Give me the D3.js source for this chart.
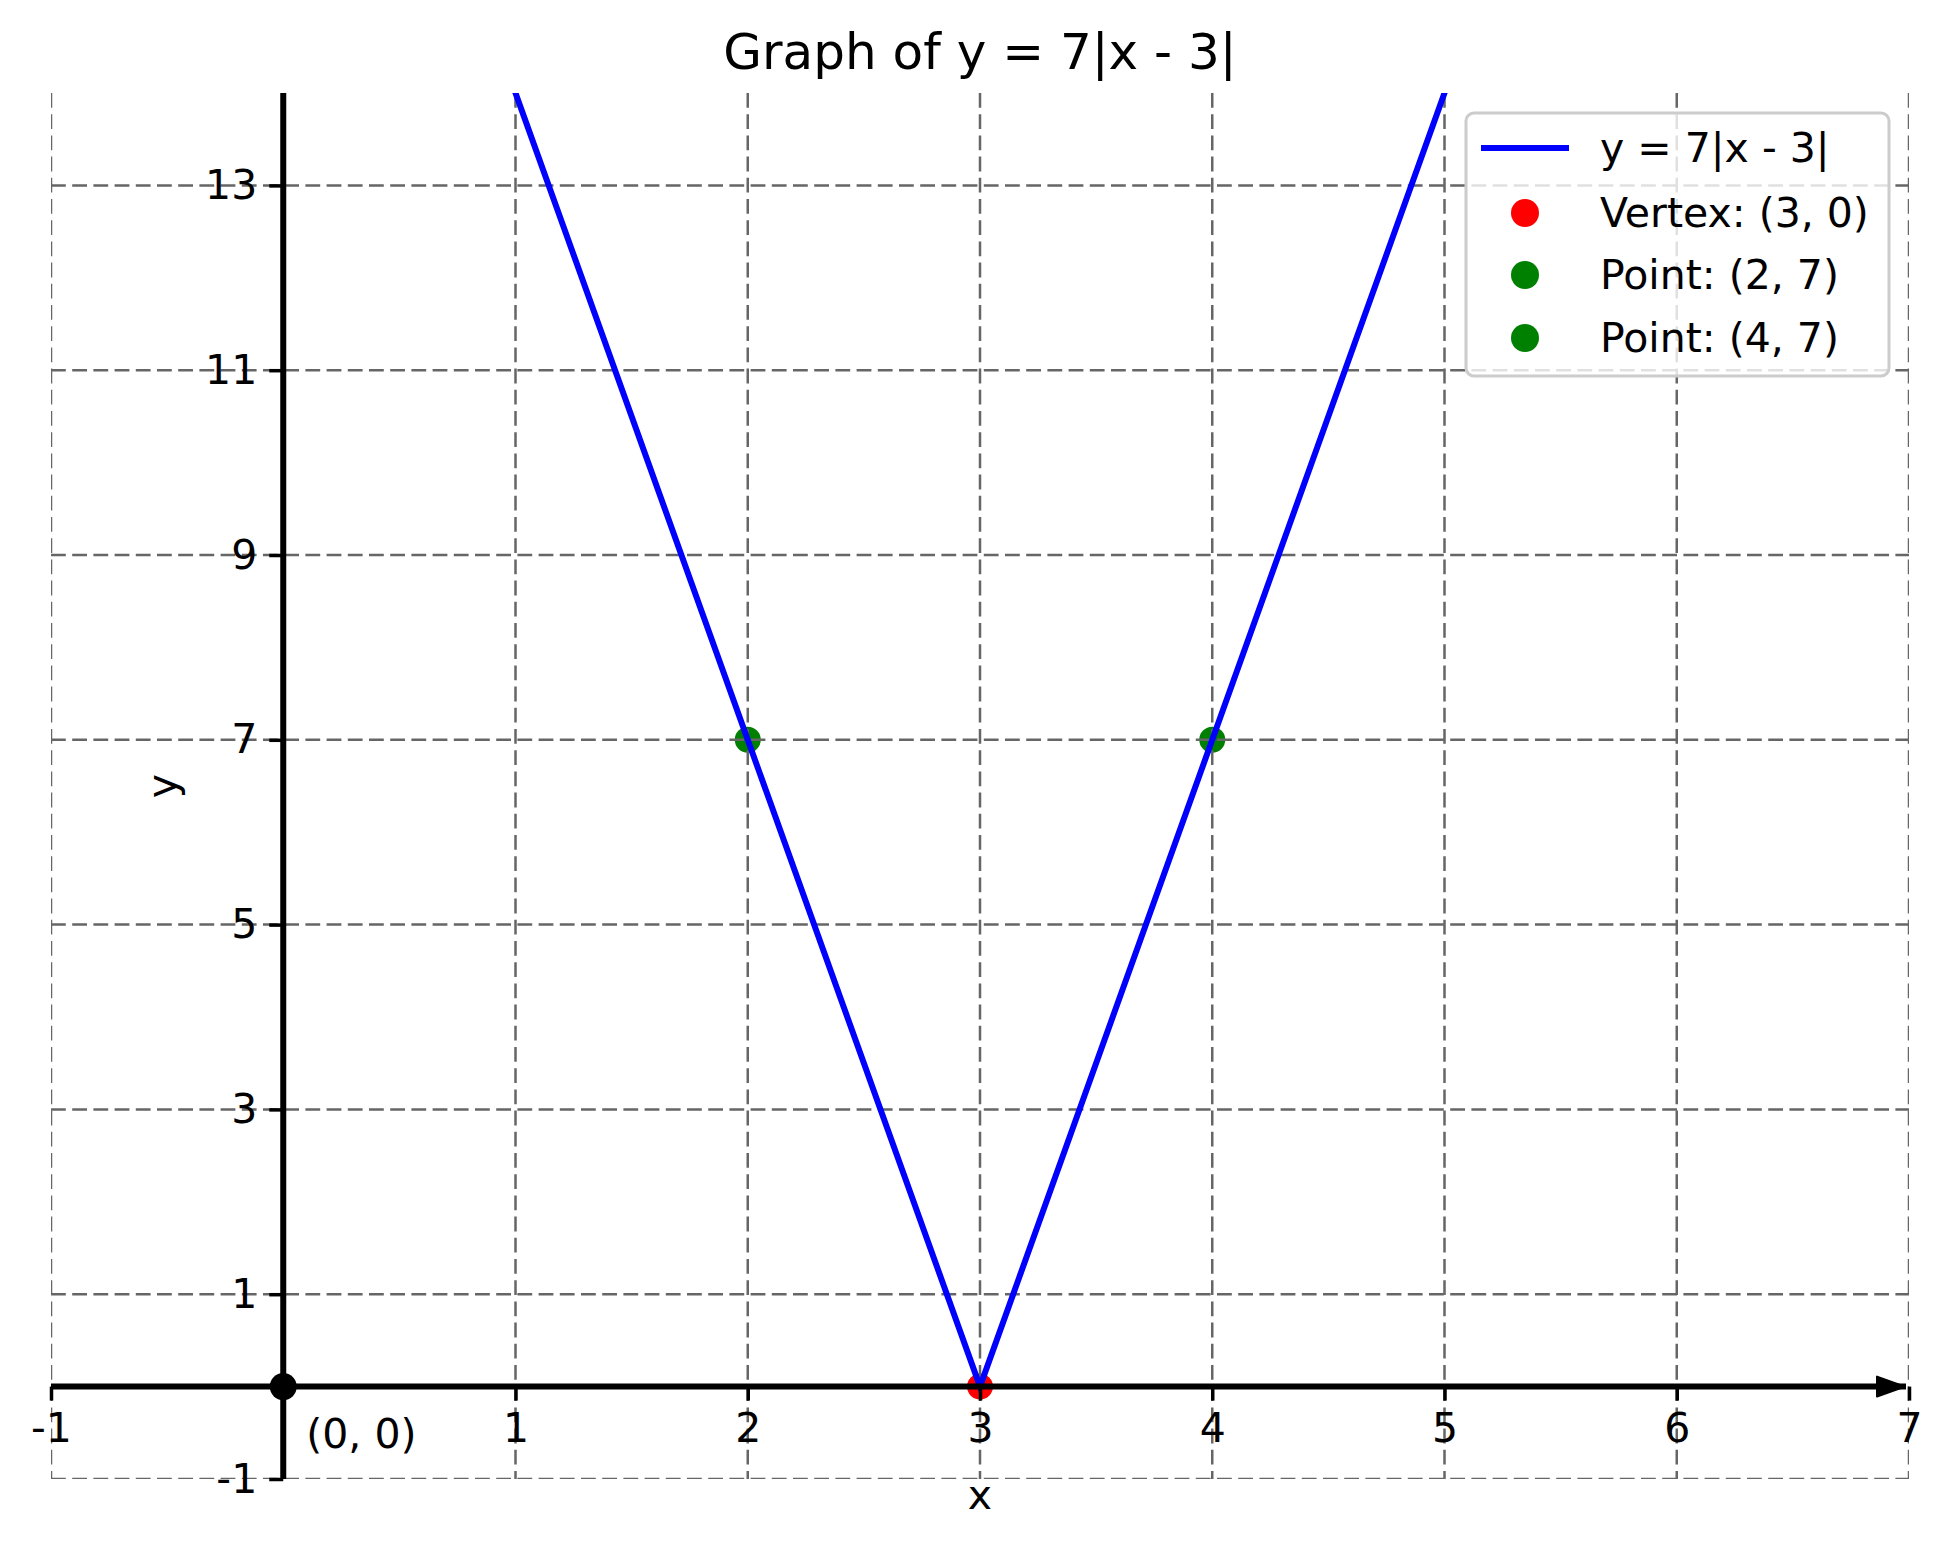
<!DOCTYPE html>
<html><head><meta charset="utf-8">
<script src="https://cdn.jsdelivr.net/npm/d3@7"></script>
<style>body{margin:0;background:#fff}svg{display:block;font-family:"DejaVu Sans",sans-serif}</style>
</head><body>
<script>
const titleText = "Graph of y = 7|x - 3|";
const lineX = [-1, 3, 7];
const lineY = [28, 0, 28];
const xTicks = [-1, 0, 1, 2, 3, 4, 5, 6, 7];
const xTickLabels = ["-1", "", "1", "2", "3", "4", "5", "6", "7"];
const yTicks = [13, 11, 9, 7, 5, 3, 1, -1];
const yTickLabels = ["13", "11", "9", "7", "5", "3", "1", "-1"];
const pointLabels = ["Vertex: (3, 0)", "Point: (2, 7)", "Point: (4, 7)"];
const pointX = [3, 2, 4];
const pointY = [0, 7, 7];
const pointColors = ["#ff0000", "#008000", "#008000"];
const lineLabel = "y = 7|x - 3|";
const originLabel = "(0, 0)";

const W = 1953, H = 1546;
const L = 51, R = 1909, T = 93, B = 1479;
const FS = 41;
const x = d3.scaleLinear().domain([-1, 7]).range([L, R]);
const y = d3.scaleLinear().domain([-1, 14]).range([B, T]);

const svg = d3.select("body").append("svg").attr("width", W).attr("height", H);
svg.append("defs").append("clipPath").attr("id", "clip")
  .append("rect").attr("x", L).attr("y", T).attr("width", R - L).attr("height", B - T);

// scatter points
const gp = svg.append("g").attr("clip-path", "url(#clip)");
gp.selectAll("circle").data(pointX.map((v, i) => ({x: v, y: pointY[i], c: pointColors[i]})))
  .enter().append("circle")
  .attr("cx", d => x(d.x)).attr("cy", d => y(d.y)).attr("r", 13).attr("fill", d => d.c);

// grid
const gg = svg.append("g").attr("clip-path", "url(#clip)")
  .attr("stroke", "#666").attr("stroke-width", 2.5).attr("stroke-dasharray", "14.8,6.4");
xTicks.forEach(t => gg.append("line").attr("x1", x(t)).attr("x2", x(t)).attr("y1", T).attr("y2", B));
yTicks.forEach(t => gg.append("line").attr("y1", y(t)).attr("y2", y(t)).attr("x1", L).attr("x2", R));

// line
svg.append("path").attr("clip-path", "url(#clip)")
  .datum(lineX.map((v, i) => [v, lineY[i]]))
  .attr("d", d3.line().x(d => x(d[0])).y(d => y(d[1])))
  .attr("fill", "none").attr("stroke", "#0000ff").attr("stroke-width", 6);

// axes through origin
const xAxis = d3.axisBottom(x).tickValues(xTicks).tickFormat((d, i) => xTickLabels[i]).tickSize(14).tickPadding(12);
const gx = svg.append("g").attr("transform", `translate(0,${y(0)})`).call(xAxis);
gx.select(".domain").remove();
gx.selectAll(".tick line").attr("stroke", "#000").attr("stroke-width", 3.5);
gx.selectAll(".tick text").attr("font-size", FS).attr("font-family", "DejaVu Sans").attr("fill", "#000");
gx.selectAll(".tick").filter(d => d === 0).select("line").remove();

const yAxis = d3.axisLeft(y).tickValues(yTicks).tickFormat((d, i) => yTickLabels[i]).tickSize(14).tickPadding(12);
const gy = svg.append("g").attr("transform", `translate(${x(0)},0)`).call(yAxis);
gy.select(".domain").remove();
gy.selectAll(".tick line").attr("stroke", "#000").attr("stroke-width", 3.5);
gy.selectAll(".tick text").attr("font-size", FS).attr("font-family", "DejaVu Sans").attr("fill", "#000");

// spines
svg.append("line").attr("x1", L).attr("x2", R - 3).attr("y1", y(0)).attr("y2", y(0))
  .attr("stroke", "#000").attr("stroke-width", 6);
svg.append("line").attr("x1", x(0)).attr("x2", x(0)).attr("y1", T).attr("y2", B)
  .attr("stroke", "#000").attr("stroke-width", 6);
// arrow head
const ax = x(7) - 4, ay = y(0);
svg.append("path").attr("d", `M${ax},${ay} L${ax - 28},${ay - 10} L${ax - 28},${ay + 10} Z`)
  .attr("fill", "#000").attr("stroke", "#000").attr("stroke-width", 2).attr("stroke-linejoin", "round");

// origin dot and label
svg.append("circle").attr("cx", x(0)).attr("cy", y(0)).attr("r", 13.5).attr("fill", "#000");
svg.append("text").attr("x", x(0) + 23).attr("y", y(0) + 47).attr("font-size", FS)
  .attr("text-anchor", "start").attr("dominant-baseline", "central").text(originLabel);

// title and axis labels
svg.append("text").attr("x", (L + R) / 2).attr("y", 52).attr("font-size", 50)
  .attr("text-anchor", "middle").attr("dominant-baseline", "central").text(titleText);
svg.append("text").attr("x", (L + R) / 2).attr("y", 1495).attr("font-size", FS)
  .attr("text-anchor", "middle").attr("dominant-baseline", "central").text("x");
svg.append("text").attr("transform", `translate(162,${(T + B) / 2}) rotate(-90)`).attr("font-size", FS)
  .attr("text-anchor", "middle").attr("dominant-baseline", "central").text("y");

// legend
const lg = svg.append("g");
lg.append("rect").attr("x", 1466).attr("y", 113).attr("width", 423).attr("height", 263)
  .attr("rx", 8).attr("fill", "#fff").attr("fill-opacity", 0.8).attr("stroke", "#cccccc").attr("stroke-width", 3);
const rowY = [148, 213, 275, 338];
lg.append("line").attr("x1", 1481).attr("x2", 1569).attr("y1", rowY[0]).attr("y2", rowY[0])
  .attr("stroke", "#0000ff").attr("stroke-width", 6);
lg.append("text").attr("x", 1600).attr("y", rowY[0]).attr("font-size", FS)
  .attr("dominant-baseline", "central").text(lineLabel);
pointLabels.forEach((lab, i) => {
  lg.append("circle").attr("cx", 1525).attr("cy", rowY[i + 1]).attr("r", 14).attr("fill", pointColors[i]);
  lg.append("text").attr("x", 1600).attr("y", rowY[i + 1]).attr("font-size", FS)
    .attr("dominant-baseline", "central").text(lab);
});
</script>
</body></html>
